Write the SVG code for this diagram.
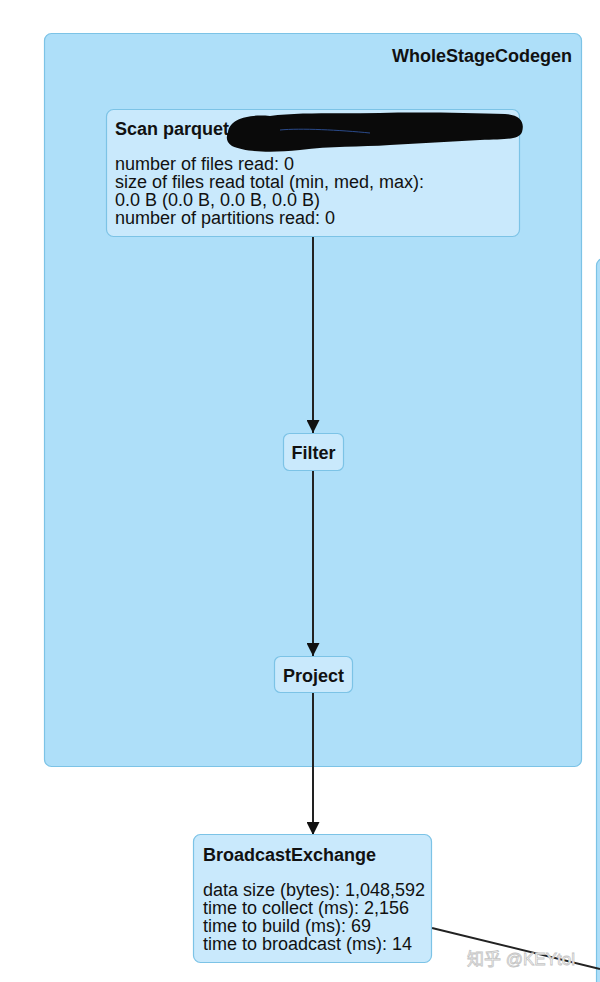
<svg xmlns="http://www.w3.org/2000/svg" width="600" height="982" viewBox="0 0 600 982">
<defs>
<style>
.cluster{fill:#aedff9;stroke:#7cc3e6;stroke-width:1.2}
.node{fill:#c9e9fc;stroke:#7cc3e6;stroke-width:1.2}
.t{font-family:"Liberation Sans",Arial,sans-serif;font-size:18px;fill:#111}
.b{font-weight:bold}
.edge{stroke:#222;stroke-width:2;fill:none}
</style>
<marker id="arr" viewBox="0 0 10 10" refX="10" refY="5" markerWidth="6.5" markerHeight="6.5" markerUnits="strokeWidth" orient="auto">
<path d="M0,0 L10,5 L0,10 z" fill="#111"/>
</marker>
</defs>
<rect width="600" height="982" fill="#ffffff"/>
<g id="cluster-wsc">
<rect class="cluster" x="44.5" y="33.5" width="537" height="733" rx="7"/>
<text class="t b" x="572" y="62" text-anchor="end">WholeStageCodegen</text>
</g>
<g id="cluster-right">
<rect class="cluster" x="596.5" y="258.5" width="30" height="800" rx="7"/>
</g>
<g id="connectors">
<line class="edge" x1="313" y1="237" x2="313" y2="433" marker-end="url(#arr)"/>
<line class="edge" x1="313" y1="470" x2="313" y2="656" marker-end="url(#arr)"/>
<line class="edge" x1="313" y1="692" x2="313" y2="835" marker-end="url(#arr)"/>
<line class="edge" x1="432" y1="928" x2="600" y2="969"/>
</g>
<g id="node-scan">
<rect class="node" x="106.5" y="109.5" width="413" height="127" rx="7"/>
<text class="t b" x="115" y="135">Scan parquet</text>
<text class="t" x="115" y="170">number of files read: 0</text>
<text class="t" x="115" y="188">size of files read total (min, med, max):</text>
<text class="t" x="115" y="206">0.0 B (0.0 B, 0.0 B, 0.0 B)</text>
<text class="t" x="115" y="224">number of partitions read: 0</text>
<path d="M228,132 C230,118 250,114 270,116 C300,112 340,114 380,113 C420,112 470,113 505,114 C520,115 525,122 522,132 C519,140 505,139 480,140 C450,142 420,143 390,145 C360,147 330,146 300,150 C270,153 245,152 232,146 C226,142 226,137 228,132 z" fill="#0a0a0a"/>
<path d="M280,130 C300,128 340,130 370,133" stroke="#2a4a8a" stroke-width="1" fill="none"/>
</g>
<g id="node-filter">
<rect class="node" x="283.5" y="433.5" width="60" height="37" rx="6"/>
<text class="t b" x="313.5" y="459" text-anchor="middle">Filter</text>
</g>
<g id="node-project">
<rect class="node" x="274.5" y="656.5" width="78" height="36" rx="6"/>
<text class="t b" x="313.5" y="682" text-anchor="middle">Project</text>
</g>
<g id="node-broadcast">
<rect class="node" x="193.5" y="834.5" width="238" height="128" rx="7"/>
<text class="t b" x="203" y="861">BroadcastExchange</text>
<text class="t" x="203" y="896">data size (bytes): 1,048,592</text>
<text class="t" x="203" y="914">time to collect (ms): 2,156</text>
<text class="t" x="203" y="932">time to build (ms): 69</text>
<text class="t" x="203" y="950">time to broadcast (ms): 14</text>
</g>
<text x="467" y="965" font-family="'Liberation Sans','Noto Sans CJK SC',sans-serif" font-size="17" fill="#ffffff" stroke="#c4c4c4" stroke-width="0.8">知乎 @KEYtol</text>
</svg>
